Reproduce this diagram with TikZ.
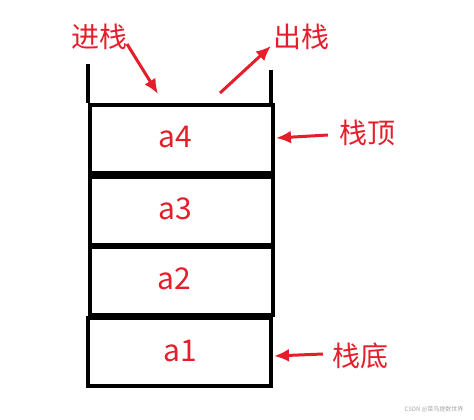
\documentclass[tikz,border=0pt]{standalone}
\usepackage{fontspec}
\setmainfont{Noto Sans CJK SC}
\usetikzlibrary{arrows.meta}
\definecolor{myred}{HTML}{E41E2B}
\tikzset{
  cell/.style={draw=black, line width=3.5pt, minimum width=183pt, minimum height=68pt, inner sep=0pt, text=myred, font=\fontsize{30}{30}\selectfont, anchor=north west},
  lbl/.style={text=myred, font=\fontsize{28}{28}\selectfont, inner sep=0pt},
  redarrow/.style={draw=myred, line width=3pt, -{Latex[length=15pt,width=13pt]}},
  wall/.style={line width=3.5pt, black}
}
\begin{document}
\begin{tikzpicture}[x=1pt,y=-1pt]
\useasboundingbox (0,0) rectangle (474,420);
% walls
\coordinate (lt) at (88,64);
\coordinate (lb) at (88,103);
\coordinate (rt) at (271,70);
\coordinate (rb) at (271,103);
\draw[wall] (lt) -- (lb);
\draw[wall] (rt) -- (rb);
% cells
\node[cell] (a4) at (88,103) {};
\node[myred, font=\fontsize{30}{30}\selectfont] (t4) at (175,137) {a4};
\node[cell] (a3) at (88,175) {};
\node[myred, font=\fontsize{30}{30}\selectfont] (t3) at (175,209) {a3};
\node[cell] (a2) at (88,245) {};
\node[myred, font=\fontsize{30}{30}\selectfont] (t2) at (174,279) {a2};
\node[cell] (a1) at (86,316) {};
\node[myred, font=\fontsize{30}{30}\selectfont] (t1) at (180,351) {a1};
% labels
\node[lbl] (push) at (99,37) {进栈};
\node[lbl] (pop) at (301,37) {出栈};
\node[lbl] (top) at (367,133) {栈顶};
\node[lbl] (bot) at (360,356) {栈底};
% arrows
\coordinate (pushs) at (127,44);
\coordinate (pushe) at (158,94);
\coordinate (pops) at (220,93);
\coordinate (pope) at (271,46);
\coordinate (tops) at (328,135);
\coordinate (tope) at (276,138);
\coordinate (bots) at (323,354);
\coordinate (bote) at (274,356);
\draw[redarrow] (pushs) -- (pushe);
\draw[redarrow] (pops) -- (pope);
\draw[redarrow] (tops) -- (tope);
\draw[redarrow] (bots) -- (bote);
% watermark
\node[text=black!35, font=\fontsize{6}{6}\selectfont, inner sep=0pt] (wm) at (434,409) {CSDN @菜鸟提数世界};
\end{tikzpicture}
\end{document}
